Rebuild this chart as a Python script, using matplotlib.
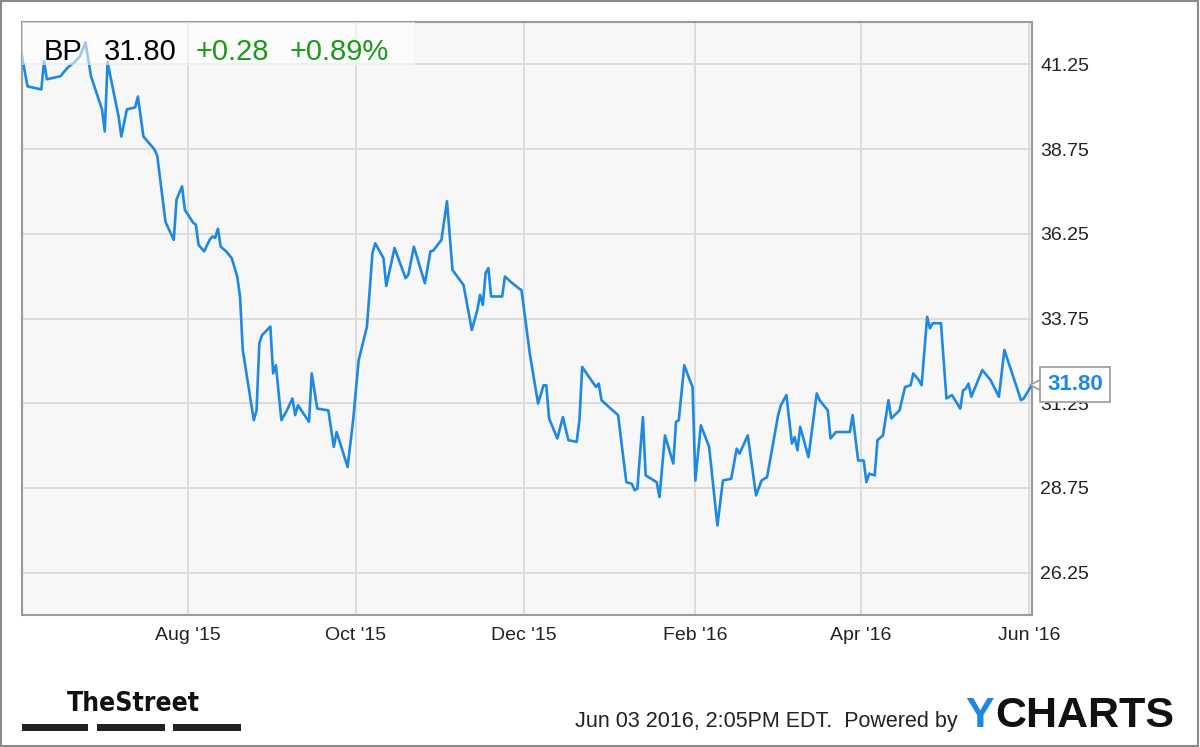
import matplotlib
matplotlib.use('Agg')
import matplotlib.pyplot as plt
import matplotlib.transforms as mtransforms
from matplotlib.patches import Rectangle
import pandas as pd

plt.rcParams['font.family'] = ['Liberation Sans', 'DejaVu Sans']

# BP daily close, days counted from start_date
start_date = '2015-06-02'
day_offsets = [0, 2, 7, 8, 9, 14, 15, 17, 19, 21,
               23, 25, 29, 30, 31, 35, 36, 38, 41, 42,
               44, 48, 49, 52, 55, 56, 58, 59, 62, 63,
               64, 66, 68, 69, 70, 71, 72, 74, 76, 78,
               79, 80, 84, 85, 86, 87, 90, 91, 92, 94,
               96, 98, 99, 100, 104, 105, 107, 111, 113, 114,
               118, 120, 122, 125, 127, 128, 131, 132, 135, 139,
               140, 142, 146, 148, 149, 152, 154, 156, 160, 163,
               165, 166, 167, 168, 169, 170, 174, 175, 177, 180,
               181, 184, 187, 189, 190, 191, 194, 196, 198, 201,
               202, 203, 205, 208, 209, 210, 214, 216, 219, 221,
               222, 223, 225, 226, 230, 231, 233, 236, 237, 238,
               240, 242, 243, 244, 246, 249, 252, 254, 257, 259,
               260, 263, 266, 268, 270, 274, 275, 277, 279, 280,
               281, 282, 285, 288, 289, 292, 293, 295, 300, 301,
               303, 305, 306, 307, 309, 310, 312, 314, 315, 318,
               320, 322, 323, 325, 326, 328, 329, 330, 333, 335,
               337, 340, 341, 342, 343, 344, 348, 351, 354, 356,
               362, 363, 366]
prices = [41.49, 40.60, 40.51, 41.34, 40.81, 40.90, 41.01, 41.19, 41.31, 41.49,
          41.90, 40.90, 39.92, 39.27, 41.31, 39.71, 39.12, 39.92, 39.98, 40.30,
          39.12, 38.74, 38.56, 36.60, 36.07, 37.26, 37.65, 36.96, 36.58, 36.52,
          35.92, 35.73, 36.07, 36.17, 36.13, 36.40, 35.87, 35.73, 35.53, 34.99,
          34.40, 32.82, 30.75, 31.04, 33.02, 33.26, 33.51, 32.13, 32.37, 30.75,
          31.04, 31.39, 30.90, 31.19, 30.70, 32.13, 31.09, 31.04, 29.96, 30.40,
          29.37, 30.75, 32.52, 33.51, 35.68, 35.97, 35.53, 34.71, 35.83, 34.94,
          35.04, 35.87, 34.79, 35.73, 35.75, 36.07, 37.21, 35.18, 34.74, 33.41,
          34.00, 34.45, 34.15, 35.09, 35.24, 34.40, 34.40, 34.99, 34.84, 34.64,
          34.59, 32.72, 31.24, 31.78, 31.78, 30.80, 30.21, 30.84, 30.16, 30.11,
          30.75, 32.32, 32.08, 31.73, 31.83, 31.34, 31.04, 30.90, 28.92, 28.87,
          28.68, 28.73, 30.84, 29.12, 28.92, 28.48, 30.30, 29.47, 30.70, 30.75,
          32.37, 31.93, 31.73, 28.97, 30.60, 29.96, 27.64, 28.97, 29.02, 29.91,
          29.76, 30.30, 28.53, 28.97, 29.07, 30.90, 31.19, 31.49, 30.06, 30.25,
          29.86, 30.55, 29.66, 31.54, 31.34, 31.04, 30.21, 30.40, 30.40, 30.90,
          29.56, 29.56, 28.92, 29.17, 29.12, 30.16, 30.30, 31.34, 30.80, 31.04,
          31.73, 31.78, 32.13, 31.93, 31.78, 33.80, 33.46, 33.61, 33.61, 31.39,
          31.49, 31.09, 31.63, 31.68, 31.83, 31.44, 32.23, 31.93, 31.44, 32.82,
          31.34, 31.39, 31.80]

tick_dates = ['2015-08-01', '2015-10-01', '2015-12-01', '2016-02-01', '2016-04-01', '2016-06-01']
tick_labels = ["Aug '15", "Oct '15", "Dec '15", "Feb '16", "Apr '16", "Jun '16"]
y_ticks = [26.25, 28.75, 31.25, 33.75, 36.25, 38.75, 41.25]

ticker = 'BP'
last_price = 31.80
change = 0.28
change_pct = 0.89
stamp = 'Jun 03 2016, 2:05PM EDT.  Powered by'

BLUE = '#1e88e5'
GREEN = '#1a9a1a'
W, H = 1200, 747


def fpos(x, y):
    # pixel position -> figure fraction
    return x / W, 1 - y / H


dates = pd.Timestamp(start_date) + pd.to_timedelta(day_offsets, unit='D')

fig = plt.figure(figsize=(W / 100, H / 100), dpi=100)
ax = fig.add_axes([22 / W, 1 - 615 / H, 1010 / W, 593 / H])
ax.set_facecolor('#f7f7f7')
ax.plot(dates, prices, color=BLUE, lw=1.9, zorder=3, solid_joinstyle='round')

ax.set_xlim(pd.Timestamp(start_date), pd.Timestamp(start_date) + pd.Timedelta(days=366))
ax.set_ylim(25.0, 42.5)
ax.set_yticks(y_ticks)
ax.set_yticklabels([f'{v:.2f}' for v in y_ticks])
ax.yaxis.tick_right()
ax.set_xticks(pd.to_datetime(tick_dates))
ax.set_xticklabels(tick_labels)
ax.tick_params(axis='both', length=0, labelsize=14, labelcolor='#222222')
ax.tick_params(axis='y', pad=6)
ax.tick_params(axis='x', pad=9)
ax.grid(color='#dadada', lw=1.3, zorder=1)
ax.set_axisbelow(True)
for s in ax.spines.values():
    s.set_color('#9a9a9a')
    s.set_linewidth(1.5)

# header box over the line
ax.add_patch(Rectangle((0, 1 - 43 / 593), 393 / 1010, 43 / 593, transform=ax.transAxes,
                       facecolor='white', alpha=0.55, edgecolor='none', zorder=4))
fig.text(*fpos(44, 60), ticker, fontsize=21, color='black', va='baseline', zorder=6)
fig.text(*fpos(104, 60), f'{last_price:.2f}', fontsize=21, color='black', va='baseline', zorder=6)
fig.text(*fpos(196, 60), f'+{change:.2f}', fontsize=21, color=GREEN, va='baseline', zorder=6)
fig.text(*fpos(290, 60), f'+{change_pct:.2f}%', fontsize=21, color=GREEN, va='baseline', zorder=6)

# last price tag on the right axis
tip = mtransforms.blended_transform_factory(ax.transAxes, ax.transData)
ax.plot([1.0], [last_price], marker='<', markersize=12, mfc='white', mec='#9a9a9a',
        mew=1.2, transform=mtransforms.offset_copy(tip, fig=fig, x=6, y=0, units='dots'),
        clip_on=False, zorder=7)
ax.annotate(f'{last_price:.2f}', xy=(1.0, last_price), xycoords=tip,
            xytext=(15, 0), textcoords='offset pixels', ha='left', va='center',
            fontsize=16, fontweight='bold', color=BLUE, annotation_clip=False, zorder=8,
            bbox=dict(boxstyle='square,pad=0.32', fc='white', ec='#9a9a9a', lw=1.2))

# footer
fig.text(*fpos(133, 711), 'TheStreet', fontsize=19, fontweight='bold', ha='center',
         family='DejaVu Sans', fontstretch='condensed', va='baseline', color='#111111')
for x0, x1 in [(22, 88), (97, 165), (173, 241)]:
    fig.add_artist(Rectangle(fpos(x0, 731), (x1 - x0) / W, 7 / H, transform=fig.transFigure,
                             facecolor='#222222', edgecolor='none'))
fig.text(*fpos(958, 727), stamp, fontsize=15.5, ha='right', va='baseline', color='#222222')
fig.text(*fpos(965, 727), 'Y', fontsize=31, fontweight='bold', color=BLUE, va='baseline')
fig.text(*fpos(995, 727), 'CHARTS', fontsize=31, fontweight='bold', color='#111111', va='baseline')

# outer frame
fig.add_artist(Rectangle((0.001, 0.002), 0.997, 0.996, transform=fig.transFigure,
                         fill=False, edgecolor='#8a8a8a', lw=1.5))

fig.savefig('out.png', dpi=100)
